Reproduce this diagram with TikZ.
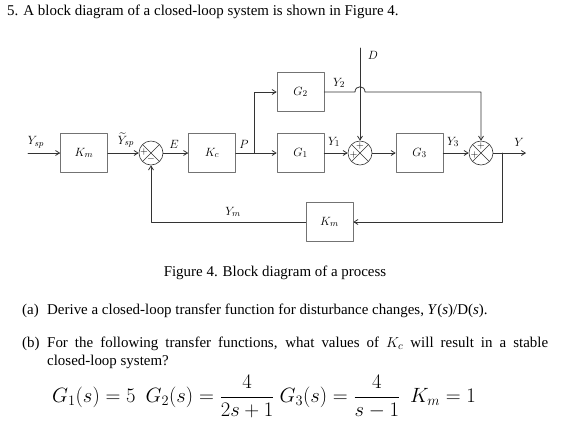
\documentclass[tikz,border=0pt]{standalone}
\usepackage{amsmath}
\usepackage{fontspec}
\setmainfont{Liberation Serif}
\usetikzlibrary{arrows.meta}
\begin{document}
\begin{tikzpicture}[line join=round, line cap=round,>={Straight Barb[length=4pt,width=5pt]},x=1bp,y=-1bp]
	\tikzset{blk/.style={draw=black!55,line width=0.6pt,minimum width=47bp,minimum height=39bp,inner sep=0pt,font=\fontsize{13}{15}\selectfont},
		sumj/.style={draw=black!80,circle,minimum size=24bp,inner sep=0pt,line width=0.6pt,
			path picture={\draw[black!80,line width=0.6pt] (path picture bounding box.north west)--(path picture bounding box.south east)
				(path picture bounding box.north east)--(path picture bounding box.south west);}},
		sig/.style={draw=black!80,line width=0.8pt},
		lbl/.style={font=\fontsize{12.5}{14}\selectfont,inner sep=0.5pt},
		pm/.style={font=\fontsize{10}{10}\selectfont,inner sep=0pt},
		txt/.style={font=\fontsize{15}{18}\selectfont,inner sep=0pt}}
	\useasboundingbox (0,0) rectangle (569,425);
	% text above and below
	\node[txt,anchor=west] (title) at (7,12) {5. A block diagram of a closed-loop system is shown in Figure 4.};
	\node[txt] (cap) at (275,273) {Figure 4. Block diagram of a process};
	\node[txt,anchor=base west] (qa) at (22,314) {(a)};
	\node[txt,anchor=base west] (qatext) at (47,314) {Derive a closed-loop transfer function for disturbance changes, \textit{Y}(\textit{s})/D(\textit{s}).};
	\node[txt,anchor=base west] (qb) at (22,347) {(b)};
	\node[txt,anchor=north west,text width=501bp,align=justify] (qbtext) at (47,337)
	{For the following transfer functions, what values of $K_c$ will result in a stable\linebreak closed-loop system?};
	\node[font=\fontsize{20}{24}\selectfont,anchor=west,inner sep=0pt] (eq) at (52,397)
	{$G_1(s)=5\ \ G_2(s)=\dfrac{4}{2s+1}\ G_3(s)=\dfrac{4}{s-1}\ \ K_m=1$};
	% blocks
	\node[blk] (kmf) at (84,153) {$K_m$};
	\node[sumj] (s1) at (151,153) {};
	\node[blk] (kc) at (212,153) {$K_c$};
	\node[blk] (g1) at (300.5,153) {$G_1$};
	\node[blk] (g2) at (300.5,92) {$G_2$};
	\node[sumj] (s2) at (360,153) {};
	\node[blk] (g3) at (419.5,153) {$G_3$};
	\node[sumj] (s3) at (481,153) {};
	\node[blk] (kmb) at (329.5,222) {$K_m$};
	\coordinate (ysp) at (28,153);
	\coordinate (d) at (360,48);
	\coordinate (y) at (526,153);
	\coordinate (p) at (254,153);
	\coordinate (b) at (502,153);
	% signals
	\draw[sig,->] (ysp) -- (kmf);
	\draw[sig,->] (kmf) -- (s1);
	\draw[sig,->] (s1) -- (kc);
	\draw[sig,->] (kc) -- (g1);
	\draw[sig,->] (p) |- (g2);
	\draw[sig,->] (g1) -- (s2);
	\draw[sig,->] (s2) -- (g3);
	\draw[sig,->] (g3) -- (s3);
	\draw[sig,->] (s3) -- (y);
	\draw[sig,->] (d) -- (s2);
	\draw[sig,->] (g2.east) -- (355,92) .. controls (355,85) and (365,85) .. (365,92) -- (481,92) -- (s3);
	\draw[sig,->] (b) |- (kmb);
	\draw[sig,->] (kmb) -| (s1);
	% labels
	\node[lbl] (lysp) at (36,142) {$Y_{sp}$};
	\node[lbl] (lyt) at (126,140) {$\widetilde{Y}_{sp}$};
	\node[lbl] (le) at (174,144) {$E$};
	\node[lbl] (lp) at (244,144) {$P$};
	\node[lbl] (ly1) at (334,142) {$Y_1$};
	\node[lbl] (ly2) at (339,83) {$Y_2$};
	\node[lbl] (ly3) at (453,142) {$Y_3$};
	\node[lbl] (ly) at (519,142) {$Y$};
	\node[lbl] (ld) at (373,55) {$D$};
	\node[lbl] (lym) at (233,212) {$Y_m$};
	\node[pm] at (144,152) {$+$};
	\node[pm] at (151,159.5) {$-$};
	\node[pm] at (360,146.5) {$+$};
	\node[pm] at (353.5,155) {$+$};
	\node[pm] at (481,146.5) {$+$};
	\node[pm] at (474.5,155) {$+$};
\end{tikzpicture}
\end{document}
